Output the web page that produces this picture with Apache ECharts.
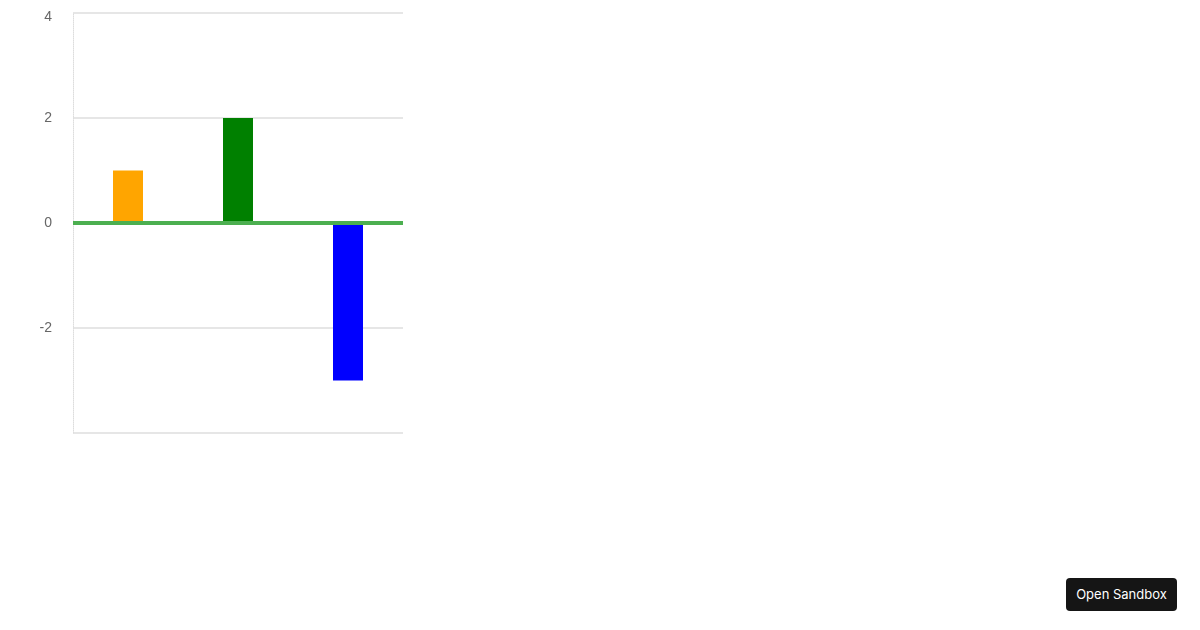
<!DOCTYPE html>
<html>
<head>
<meta charset="utf-8">
<script src="https://cdn.jsdelivr.net/npm/echarts@6/dist/echarts.min.js"></script>
<style>
  html, body { margin: 0; padding: 0; background: #fff; }
  #chart { width: 1200px; height: 630px; }
  .sandbox-btn {
    position: absolute; left: 1066px; top: 578px; width: 111px; height: 33px;
    background: #151515; color: #fff; border-radius: 4px;
    font: 13px Inter, "Noto Sans", sans-serif; line-height: 33px; text-align: center;
  }
</style>
</head>
<body>
<div id="chart"></div>
<div class="sandbox-btn">Open Sandbox</div>
<script>
const categories = ['A', 'B', 'C'];
const values = [1, 2, -3];
const barColors = ['#ffa500', '#008000', '#0000ff'];

const chart = echarts.init(document.getElementById('chart'));
chart.setOption({
  animation: false,
  grid: { left: 73, top: 13, width: 330, height: 420, containLabel: false },
  xAxis: {
    type: 'category',
    data: categories,
    z: 10,
    axisLine: { show: true, onZero: true, lineStyle: { color: '#4caf50', width: 4, cap: 'butt' } },
    axisTick: { show: false },
    axisLabel: { show: false }
  },
  yAxis: {
    type: 'value',
    min: -4,
    max: 4,
    interval: 2,
    axisLine: { show: true, lineStyle: { color: '#ddd', type: 'dotted', width: 1 } },
    axisTick: { show: false },
    axisLabel: {
      color: '#666',
      fontSize: 14,
      fontFamily: '"Liberation Sans", Arial, sans-serif',
      margin: 21,
      // top label sits a little below the top gridline in the original
      formatter: v => (v === -4 ? '' : v === 4 ? '{top|4}' : String(v)),
      rich: { top: { fontSize: 14, color: '#666', padding: [8, 0, 0, 0] } }
    },
    splitLine: { lineStyle: { color: '#e6e6e6', width: 2 } }
  },
  series: [{
    type: 'bar',
    barWidth: 30,
    data: values.map((v, i) => ({ value: v, itemStyle: { color: barColors[i] } }))
  }]
});
</script>
</body>
</html>
